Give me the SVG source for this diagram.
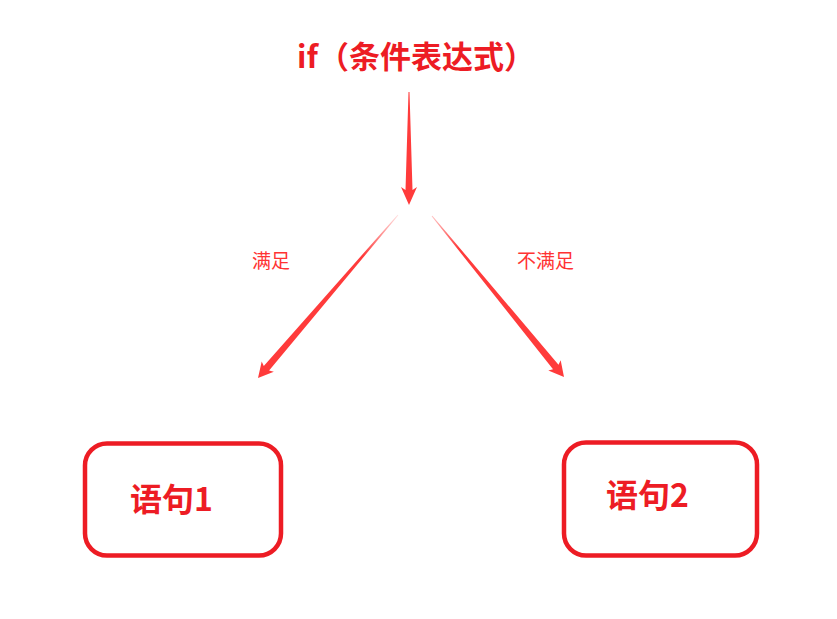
<svg xmlns="http://www.w3.org/2000/svg" width="837" height="619" viewBox="0 0 837 619">
<style>
  .title { font-family: "Microsoft YaHei", "Noto Sans CJK SC", sans-serif; font-weight: bold; font-size: 31px; fill: #ED1C24; }
  .stmt { font-family: "Microsoft YaHei", "Noto Sans CJK SC", sans-serif; font-weight: bold; font-size: 32px; fill: #ED1C24; }
  .lbl { font-family: "Microsoft YaHei", "Noto Sans CJK SC", sans-serif; font-size: 19px; fill: #FF3333; }
  .box { fill: #FFFFFF; stroke: #ED1C24; stroke-width: 4.5; }
  .arrow { stroke: none; }
</style>
<defs>
  <linearGradient id="gL" gradientUnits="userSpaceOnUse" x1="398" y1="215" x2="258" y2="378">
    <stop offset="0" stop-color="#FF3B3B" stop-opacity="0.15"/>
    <stop offset="0.25" stop-color="#FF3B3B" stop-opacity="1"/>
    <stop offset="1" stop-color="#FF3B3B" stop-opacity="1"/>
  </linearGradient>
  <linearGradient id="gR" gradientUnits="userSpaceOnUse" x1="432" y1="216" x2="564" y2="377">
    <stop offset="0" stop-color="#FF3B3B" stop-opacity="0.3"/>
    <stop offset="0.2" stop-color="#FF3B3B" stop-opacity="1"/>
    <stop offset="1" stop-color="#FF3B3B" stop-opacity="1"/>
  </linearGradient>
</defs>
<rect width="837" height="619" fill="#FFFFFF"/>
<g id="condition">
  <text class="title" x="297" y="68">if（条件表达式）</text>
</g>
<g id="connectors">
  <polygon class="arrow" fill="#FF3B3B" points="408.5,92 409.5,92 412.5,190 417,187 409,205 401,187 405.5,190"/>
  <polygon class="arrow" fill="url(#gL)" points="397.62,214.67 263.8,365.9 261.7,361.4 258,378 273.84,371.83 269.1,370.4 398.38,215.33"/>
  <polygon class="arrow" fill="url(#gR)" points="432.39,215.68 558.5,364.7 560.68,360.33 564,377 548.3,370.47 553.0,369.2 431.61,216.32"/>
  <text class="lbl" x="252" y="268">满足</text>
  <text class="lbl" x="517" y="268">不满足</text>
</g>
<g id="stmt1">
  <rect class="box" x="85" y="443.5" width="196" height="112" rx="22" ry="22"/>
  <text class="stmt" x="130" y="511">语句1</text>
</g>
<g id="stmt2">
  <rect class="box" x="564" y="442.5" width="193" height="113" rx="22" ry="22"/>
  <text class="stmt" x="606" y="507">语句2</text>
</g>
</svg>
